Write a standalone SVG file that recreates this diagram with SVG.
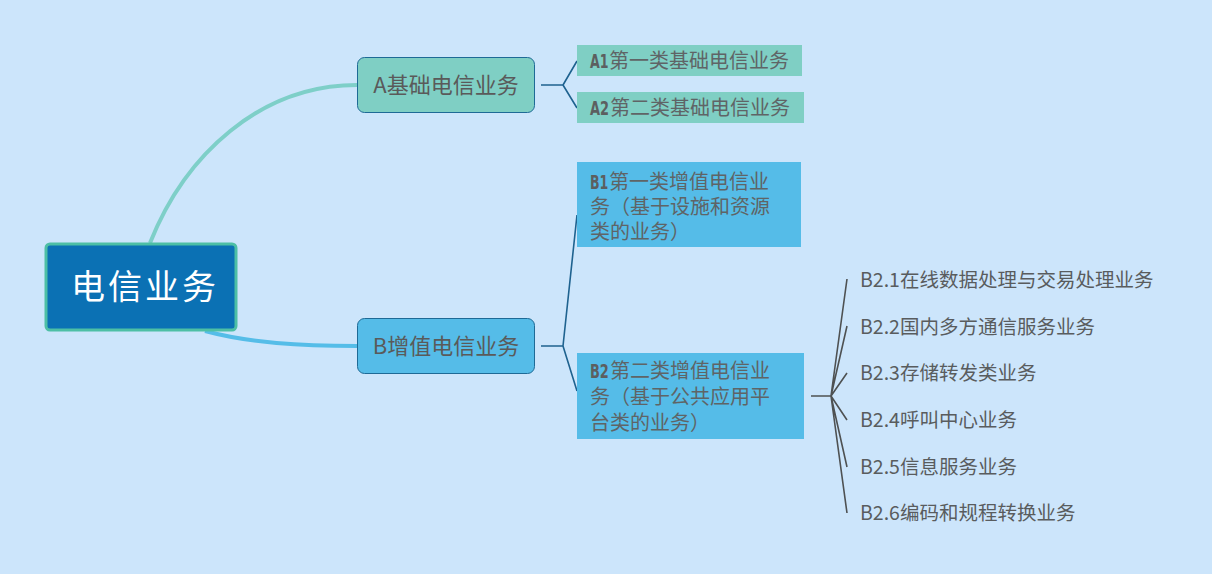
<svg xmlns="http://www.w3.org/2000/svg" width="1212" height="574" viewBox="0 0 1212 574">
<style>
.t{font-family:"Noto Sans CJK SC","Noto Sans",sans-serif;fill:#5f6466}
.b{font-family:"DejaVu Sans Condensed","Liberation Sans",sans-serif;font-weight:bold;font-size:20px;fill:#5c5f60}
.lvl1{font-size:22px;fill:#5a5a5a}
.lvl2{font-size:20px}
.lvl3{font-size:19.5px;fill:#595c5e}
.tealbox{fill:#7fcfc4}
.bluebox{fill:#55bce8}
.thin{fill:none;stroke:#1e628f;stroke-width:1.6}
.gray{fill:none;stroke:#4e5152;stroke-width:1.6}
</style>
<rect width="1212" height="574" fill="#cce5fb"/>
<g id="connectors">
<path d="M150,243 C185,155 260,85 357,85" fill="none" stroke="#7ecfc8" stroke-width="4"/>
<path d="M205,331 C250,343 300,346 357,346" fill="none" stroke="#55bde8" stroke-width="4"/>
<path class="thin" d="M541,85 H563 M563,85 L577,61 M563,85 L577,108"/>
<path class="thin" d="M541,346 H563 M563,346 L577,215 M563,346 L577,391"/>
<path class="gray" d="M811,396 H831 M831,396 L847,279 M831,396 L847,326 M831,396 L847,373 M831,396 L847,420 M831,396 L847,467 M831,396 L847,513"/>
</g>
<g id="root">
<rect x="46" y="244" width="190" height="86" rx="4" fill="#0b71b4" stroke="#4dbfa5" stroke-width="3"/>
<text x="71" y="299" font-family="Noto Sans CJK SC,sans-serif" font-size="34" letter-spacing="3" fill="#ffffff">电信业务</text>
</g>
<g id="nodeA">
<rect x="357.5" y="57.5" width="177" height="55" rx="7" class="tealbox" stroke="#1e6a96" stroke-width="1"/>
<text x="446" y="93" text-anchor="middle" class="t lvl1">A基础电信业务</text>
</g>
<g id="nodeB">
<rect x="357.5" y="318.5" width="177" height="55" rx="7" class="bluebox" stroke="#1e6a96" stroke-width="1"/>
<text x="446" y="354" text-anchor="middle" class="t lvl1">B增值电信业务</text>
</g>
<g id="nodeA1">
<rect x="577" y="45" width="225" height="31" class="tealbox"/>
<text class="b" transform="translate(590,68) scale(0.7,1)">A1</text>
<text x="609" y="68" class="t lvl2">第一类基础电信业务</text>
</g>
<g id="nodeA2">
<rect x="577" y="92" width="227" height="31" class="tealbox"/>
<text class="b" transform="translate(590,115) scale(0.72,1)">A2</text>
<text x="610" y="115" class="t lvl2">第二类基础电信业务</text>
</g>
<g id="nodeB1">
<rect x="577" y="162" width="224" height="85" class="bluebox"/>
<text class="b" transform="translate(590,189) scale(0.7,1)">B1</text>
<text class="t lvl2"><tspan x="609" y="189">第一类增值电信业</tspan><tspan x="590" y="214">务（基于设施和资源</tspan><tspan x="590" y="239">类的业务）</tspan></text>
</g>
<g id="nodeB2">
<rect x="577" y="353" width="227" height="86" class="bluebox"/>
<text class="b" transform="translate(590,378) scale(0.72,1)">B2</text>
<text class="t lvl2"><tspan x="610" y="378">第二类增值电信业</tspan><tspan x="590" y="404">务（基于公共应用平</tspan><tspan x="590" y="430">台类的业务）</tspan></text>
</g>
<g id="nodeB21"><text x="860" y="287" class="t lvl3">B2.1在线数据处理与交易处理业务</text></g>
<g id="nodeB22"><text x="860" y="334" class="t lvl3">B2.2国内多方通信服务业务</text></g>
<g id="nodeB23"><text x="860" y="380" class="t lvl3">B2.3存储转发类业务</text></g>
<g id="nodeB24"><text x="860" y="427" class="t lvl3">B2.4呼叫中心业务</text></g>
<g id="nodeB25"><text x="860" y="474" class="t lvl3">B2.5信息服务业务</text></g>
<g id="nodeB26"><text x="860" y="520" class="t lvl3">B2.6编码和规程转换业务</text></g>
</svg>
